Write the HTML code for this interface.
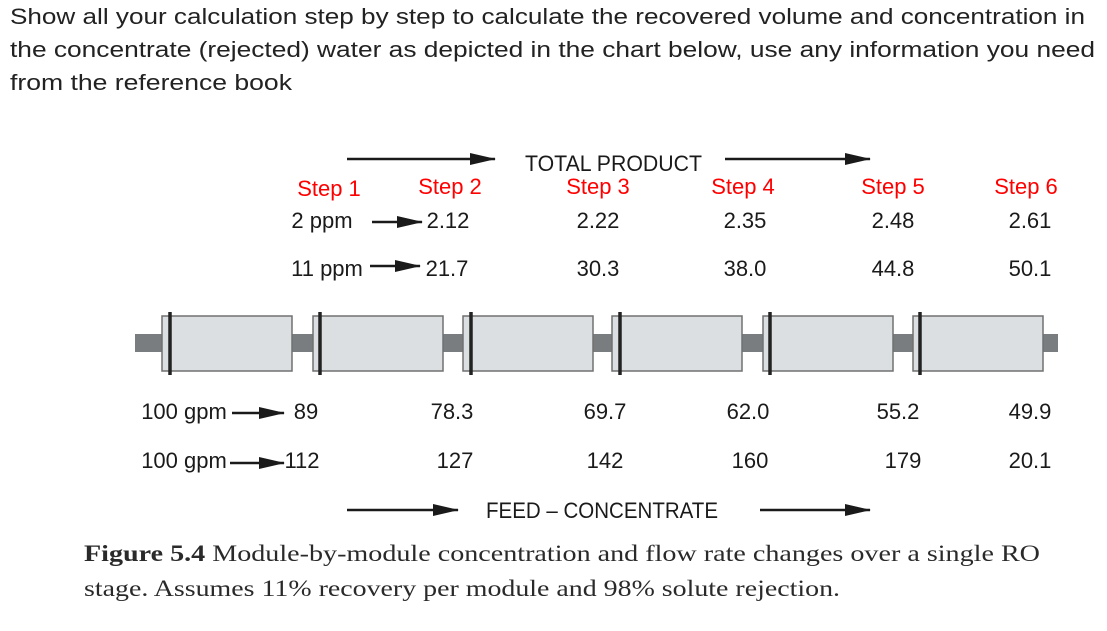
<!DOCTYPE html>
<html><head><meta charset="utf-8"><style>
html,body{margin:0;padding:0;background:#fff;width:1107px;height:631px;overflow:hidden}
svg{display:block}
.h{font-family:"Liberation Sans",sans-serif;font-size:22px;fill:#222}
.c{font-family:"Liberation Sans",sans-serif;font-size:22px;fill:#1a1a1a}
.r{font-family:"Liberation Sans",sans-serif;font-size:22px;fill:#f00}
.s{font-family:"Liberation Serif",serif;font-size:23px;fill:#2a2a2a}
</style></head><body>
<svg width="1107" height="631" viewBox="0 0 1107 631">
<defs><marker id="b" markerWidth="26" markerHeight="12" refX="25" refY="6" orient="auto" markerUnits="userSpaceOnUse"><path d="M0,0 L26,6 L0,12 Z" fill="#1a1a1a"/></marker></defs>
<text class="h" x="10" y="24" textLength="1075" lengthAdjust="spacingAndGlyphs">Show all your calculation step by step to calculate the recovered volume and concentration in</text>
<text class="h" x="10" y="57" textLength="1085" lengthAdjust="spacingAndGlyphs">the concentrate (rejected) water as depicted in the chart below, use any information you need</text>
<text class="h" x="10" y="90" textLength="282" lengthAdjust="spacingAndGlyphs">from the reference book</text>

<g stroke="#1a1a1a" stroke-width="2.5" fill="none">
<line x1="347" y1="159" x2="495" y2="159" marker-end="url(#b)"/>
<line x1="725" y1="159" x2="870" y2="159" marker-end="url(#b)"/>
<line x1="347" y1="510" x2="458" y2="510" marker-end="url(#b)"/>
<line x1="760" y1="510" x2="870" y2="510" marker-end="url(#b)"/>
<line x1="372" y1="222" x2="422" y2="222" marker-end="url(#b)"/>
<line x1="370" y1="266" x2="420" y2="266" marker-end="url(#b)"/>
<line x1="232" y1="413" x2="284" y2="413" marker-end="url(#b)"/>
<line x1="230" y1="463" x2="284" y2="463" marker-end="url(#b)"/>
</g>
<text class="c" x="525" y="171" textLength="177" lengthAdjust="spacingAndGlyphs">TOTAL PRODUCT</text>
<text class="c" x="486" y="518" textLength="232" lengthAdjust="spacingAndGlyphs">FEED – CONCENTRATE</text>

<g class="r" text-anchor="middle">
<text x="329" y="196">Step 1</text><text x="450" y="194">Step 2</text><text x="598" y="194">Step 3</text>
<text x="743" y="194">Step 4</text><text x="893" y="194">Step 5</text><text x="1026" y="194">Step 6</text>
</g>
<g class="c" text-anchor="middle">
<text x="322" y="228">2 ppm</text><text x="448" y="228">2.12</text><text x="598" y="228">2.22</text><text x="745" y="228">2.35</text><text x="893" y="228">2.48</text><text x="1030" y="228">2.61</text>
<text x="327" y="276">11 ppm</text><text x="447" y="276">21.7</text><text x="598" y="276">30.3</text><text x="745" y="276">38.0</text><text x="893" y="276">44.8</text><text x="1030" y="276">50.1</text>
<text x="184" y="419">100 gpm</text><text x="306" y="419">89</text><text x="452" y="419">78.3</text><text x="605" y="419">69.7</text><text x="748" y="419">62.0</text><text x="898" y="419">55.2</text><text x="1030" y="419">49.9</text>
<text x="184" y="468">100 gpm</text><text x="302" y="468">112</text><text x="455" y="468">127</text><text x="605" y="468">142</text><text x="750" y="468">160</text><text x="903" y="468">179</text><text x="1030" y="468">20.1</text>
</g>

<rect x="135" y="334" width="923" height="18" fill="#7a7d80"/>
<g stroke="#707070" stroke-width="1.5" fill="#dcdfe2">
<rect x="162" y="316" width="130" height="55"/><rect x="313" y="316" width="130" height="55"/><rect x="463" y="316" width="130" height="55"/>
<rect x="612" y="316" width="130" height="55"/><rect x="763" y="316" width="130" height="55"/><rect x="913" y="316" width="130" height="55"/>
</g>
<g stroke="#222" stroke-width="3.5">
<line x1="170" y1="312" x2="170" y2="375"/><line x1="320" y1="312" x2="320" y2="375"/><line x1="471" y1="312" x2="471" y2="375"/>
<line x1="620" y1="312" x2="620" y2="375"/><line x1="770" y1="312" x2="770" y2="375"/><line x1="920" y1="312" x2="920" y2="375"/>
</g>

<text class="s" x="84" y="561" textLength="956" lengthAdjust="spacingAndGlyphs"><tspan font-weight="bold">Figure 5.4</tspan>  Module-by-module concentration and flow rate changes over a single RO</text>
<text class="s" x="84" y="596" textLength="756" lengthAdjust="spacingAndGlyphs">stage. Assumes 11% recovery per module and 98% solute rejection.</text>
</svg>
</body></html>
